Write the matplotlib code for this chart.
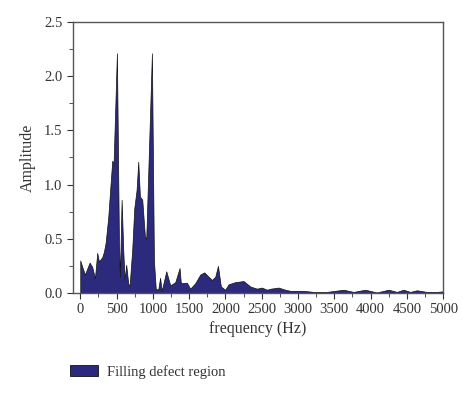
import numpy as np
import matplotlib
matplotlib.use("Agg")
import matplotlib.pyplot as plt
from matplotlib.patches import Patch
from matplotlib.ticker import MultipleLocator, FormatStrFormatter

# spectrum (Hz, amplitude)
freq = [0, 28, 64, 129, 165, 202, 234, 257, 303, 326, 349, 386, 418, 441, 459,
        505, 533, 546, 570, 592, 611, 633, 661, 679, 716, 744, 776, 799, 822,
        854, 891, 909, 987, 1015, 1040, 1074, 1100, 1122,
        1185, 1240, 1309, 1368, 1386, 1469, 1515, 1584, 1653, 1708, 1768, 1814,
        1860, 1897, 1937, 1997, 2043, 2135, 2250, 2342, 2433, 2502, 2571, 2626,
        2732, 2824, 2893, 2985, 3076, 3214, 3398, 3627, 3765, 3925, 4086, 4247,
        4362, 4454, 4545, 4637, 4775, 4913, 5000]
amp = [0.30, 0.24, 0.17, 0.28, 0.24, 0.135, 0.37, 0.29, 0.33, 0.38, 0.46, 0.70,
       1.01, 1.22, 1.19, 2.21, 0.46, 0.15, 0.86, 0.40, 0.12, 0.26, 0.09, 0.06,
       0.40, 0.78, 0.95, 1.21, 0.89, 0.86, 0.52, 0.50, 2.21, 0.30, 0.04, 0.03,
       0.14, 0.02,
       0.20, 0.07, 0.10, 0.23, 0.09, 0.095, 0.04,
       0.09, 0.17, 0.19, 0.15, 0.12, 0.15, 0.25, 0.06, 0.03, 0.08, 0.10, 0.11,
       0.06, 0.04, 0.05, 0.03, 0.04, 0.05, 0.03, 0.02, 0.02, 0.02, 0.01, 0.01,
       0.03, 0.01, 0.03, 0.005, 0.03, 0.01, 0.03, 0.01, 0.025, 0.01, 0.01, 0.015]

fill_color = "#2c2a7c"
plt.rcParams["font.family"] = ["Liberation Serif", "DejaVu Serif"]

fig = plt.figure(figsize=(4.74, 3.97), dpi=100)
ax = fig.add_axes([0.154, 0.262, 0.781, 0.683])

ax.fill_between(freq, amp, 0, facecolor=fill_color, edgecolor="#111111", linewidth=0.5)

ax.set_xlim(-100, 5000)
ax.set_ylim(0, 2.5)
ax.xaxis.set_major_locator(MultipleLocator(500))
ax.xaxis.set_minor_locator(MultipleLocator(250))
ax.yaxis.set_major_locator(MultipleLocator(0.5))
ax.yaxis.set_minor_locator(MultipleLocator(0.25))
ax.yaxis.set_major_formatter(FormatStrFormatter("%.1f"))
ax.tick_params(which="both", direction="out", labelsize=10.5, colors="#333333")
ax.tick_params(which="major", length=4)
ax.tick_params(which="minor", length=3)
for s in ax.spines.values():
    s.set_color("#555555")
    s.set_linewidth(1.0)

ax.set_xlabel("frequency (Hz)", fontsize=11.5, color="#333333", labelpad=3)
ax.set_ylabel("Amplitude", fontsize=11.5, color="#333333", labelpad=6)

handle = Patch(facecolor=fill_color, edgecolor="#111111", linewidth=0.6)
fig.legend([handle], ["Filling defect region"], loc="center left",
           bbox_to_anchor=(0.148, 0.063), frameon=False, fontsize=10.5,
           handlelength=1.9, handleheight=0.8, handletextpad=0.65,
           borderpad=0, borderaxespad=0, labelcolor="#333333")

fig.savefig("out.png", dpi=100)
